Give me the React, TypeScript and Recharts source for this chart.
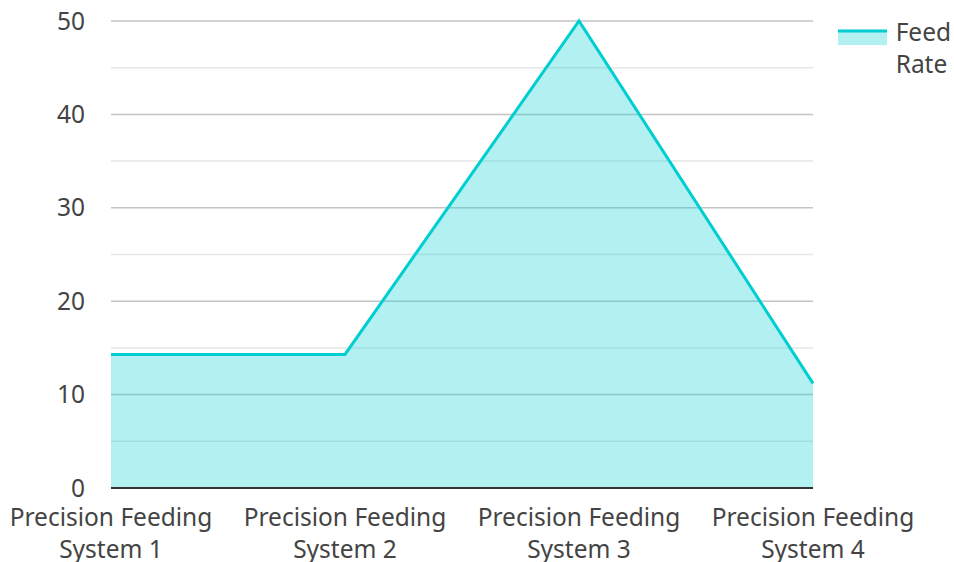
import { AreaChart, Area, XAxis, YAxis, CartesianGrid, Legend } from "recharts";

const categories = [
  "Precision Feeding System 1",
  "Precision Feeding System 2",
  "Precision Feeding System 3",
  "Precision Feeding System 4",
];
const feedRate = [14.3, 14.3, 50, 11.2];
const yTicks = [0, 10, 20, 30, 40, 50];
const majorLines = [10, 20, 30, 40, 50];
const minorLines = [5, 15, 25, 35, 45];

const data = categories.map((name, i) => ({ name, feedRate: feedRate[i] }));

const FONT = "'Noto Sans', sans-serif";
const TEXT = "#444";
const CYAN = "#00CED1";

function XTick({ x, y, payload }: any) {
  const words = String(payload.value).split(" ");
  const line1 = words.slice(0, 2).join(" ");
  const line2 = words.slice(2).join(" ");
  return (
    <text x={x} y={y} textAnchor="middle" fill={TEXT} fontSize={24.5} fontFamily={FONT}>
      <tspan x={x} dy={30}>{line1}</tspan>
      <tspan x={x} dy={32}>{line2}</tspan>
    </text>
  );
}

function FeedLegend() {
  return (
    <div style={{ display: "flex", alignItems: "flex-start", fontFamily: FONT, fontSize: 24.5, color: TEXT }}>
      <svg width={50} height={16} style={{ marginTop: 13, marginRight: 9 }}>
        <rect x={0} y={1} width={50} height={15} fill={CYAN} fillOpacity={0.3} />
        <line x1={0} y1={2} x2={50} y2={2} stroke={CYAN} strokeWidth={3} />
      </svg>
      <div style={{ lineHeight: "32px", width: 60 }}>Feed Rate</div>
    </div>
  );
}

export default function App() {
  return (
    <div style={{ position: "absolute", left: 0, top: 0 }}>
      <AreaChart width={954} height={562} data={data} margin={{ top: 21, right: 25, bottom: 0, left: 0 }}>
        <CartesianGrid horizontalValues={minorLines} vertical={false} stroke="#e6e6e6" strokeWidth={1.5} />
        <CartesianGrid horizontalValues={majorLines} vertical={false} stroke="#c4c4c4" strokeWidth={1.5} />
        <XAxis
          dataKey="name"
          tick={<XTick />}
          tickLine={false}
          axisLine={{ stroke: "#333", strokeWidth: 2 }}
          height={74}
          interval={0}
        />
        <YAxis
          domain={[0, 50]}
          ticks={yTicks}
          width={111}
          tickLine={false}
          axisLine={false}
          tickSize={0}
          tickMargin={26}
          tick={{ fill: TEXT, fontSize: 24.5, fontFamily: FONT }}
        />
        <Legend
          layout="vertical"
          align="right"
          verticalAlign="top"
          width={116}
          wrapperStyle={{ position: "absolute", top: 16, left: 838, width: 116 }}
          content={<FeedLegend />}
        />
        <Area
          type="linear"
          dataKey="feedRate"
          stroke={CYAN}
          strokeWidth={3}
          fill={CYAN}
          fillOpacity={0.3}
          isAnimationActive={false}
        />
      </AreaChart>
    </div>
  );
}
